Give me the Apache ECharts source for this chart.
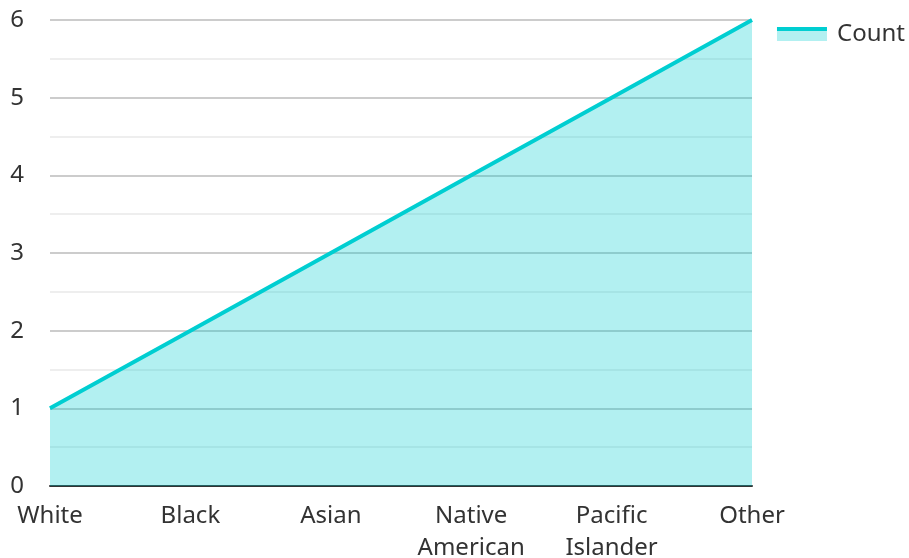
<!DOCTYPE html>
<html><head><meta charset="utf-8">
<script src="https://cdn.jsdelivr.net/npm/echarts@6/dist/echarts.min.js"></script>
<style>html,body{margin:0;padding:0;background:#fff}#c{width:909px;height:558px}</style>
</head><body><div id="c"></div>
<script>
const categories = ['White', 'Black', 'Asian', 'Native\nAmerican', 'Pacific\nIslander', 'Other'];
const countValues = [1, 2, 3, 4, 5, 6];
const seriesName = 'Count';

const chart = echarts.init(document.getElementById('c'), null, {renderer: 'canvas'});
const font = 'Noto Sans';
const lineColor = '#00CED1';
chart.setOption({
  animation: false,
  textStyle: {fontFamily: font},
  grid: {left: 50, right: 157, top: 20, bottom: 72, containLabel: false, outerBoundsMode: 'none'},
  legend: {
    show: true, right: 4, top: 22, padding: 0, itemWidth: 50, itemHeight: 14, itemGap: 10,
    icon: 'rect',
    itemStyle: {
      color: new echarts.graphic.LinearGradient(0, 0, 0, 1, [
        {offset: 0, color: lineColor}, {offset: 0.29, color: lineColor},
        {offset: 0.29, color: '#b2f0f1'}, {offset: 1, color: '#b2f0f1'}
      ]),
      borderWidth: 0
    },
    textStyle: {fontSize: 24, color: '#333', fontFamily: font, padding: [0, 0, 10, 5]},
    data: [seriesName]
  },
  xAxis: {
    type: 'category', data: categories, boundaryGap: false,
    axisLine: {lineStyle: {color: '#333', width: 2}},
    axisTick: {show: false},
    axisLabel: {fontSize: 24, color: '#333', margin: 14, lineHeight: 32, fontFamily: font},
    splitLine: {show: false}
  },
  yAxis: {
    type: 'value', min: 0, max: 6, interval: 1,
    axisLine: {show: false}, axisTick: {show: false},
    axisLabel: {fontSize: 24, color: '#333', margin: 26, fontFamily: font},
    splitLine: {show: true, lineStyle: {color: '#ccc', width: 2}},
    minorTick: {show: false, splitNumber: 2},
    minorSplitLine: {show: true, lineStyle: {color: '#eee', width: 2}}
  },
  series: [{
    name: seriesName, type: 'line', data: countValues,
    symbol: 'none',
    lineStyle: {color: lineColor, width: 4},
    itemStyle: {color: lineColor},
    areaStyle: {color: lineColor, opacity: 0.3}
  }]
});
</script></body></html>
